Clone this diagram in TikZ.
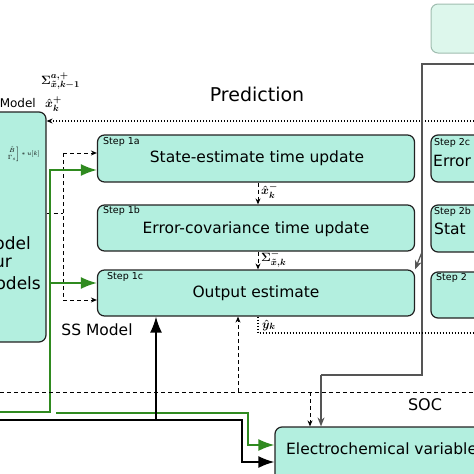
\documentclass[tikz,border=0pt]{standalone}
\usepackage{amsmath}
\usepackage{fontspec}
\setmainfont{DejaVu Sans}
\usetikzlibrary{arrows.meta}
\definecolor{boxfill}{HTML}{B3EFDF}
\definecolor{boxline}{HTML}{222222}
\definecolor{grn}{HTML}{2F8A1F}
\definecolor{lightfill}{HTML}{DDF7EC}
\definecolor{lightline}{HTML}{A0BDB0}
\definecolor{grayline}{HTML}{555555}
\begin{document}
\begin{tikzpicture}[x=1pt,y=-1pt,
  stepbox/.style={draw=boxline, fill=boxfill, line width=1.2pt, rounded corners=7pt, inner sep=0pt},
  steplabel/.style={font=\fontsize{9.5}{10}\selectfont, anchor=west, inner sep=0pt},
  maintext/.style={font=\fontsize{15.5}{18}\selectfont, inner sep=0pt},
  mathlabel/.style={font=\boldmath\fontsize{13}{14}\selectfont, inner sep=0pt},
  dasharrow/.style={dash pattern=on 4pt off 3pt, line width=0.9pt, -{Stealth[length=6pt,width=5pt]}},
  dashline/.style={dash pattern=on 4pt off 3pt, line width=0.9pt},
  dotline/.style={dash pattern=on 1.2pt off 1.8pt, line width=1.1pt},
  greenarrow/.style={draw=grn, line width=1.8pt, -{Latex[length=16pt,width=12pt]}},
  blackarrow/.style={draw=black, line width=1.8pt, -{Latex[length=16pt,width=12pt]}},
  grayarrow/.style={draw=grayline, line width=1.2pt, -{Stealth[length=9pt,width=7pt]}},
]
\useasboundingbox (0,0) rectangle (474,474);
\clip (0,0) rectangle (474,474);

% boxes
\node[stepbox, minimum width=56pt, minimum height=230pt] (lb) at (18,227) {};
\node[stepbox, minimum width=317pt, minimum height=47pt] (s1a) at (256,158.5) {};
\node[stepbox, minimum width=317pt, minimum height=46pt] (s1b) at (256,228) {};
\node[stepbox, minimum width=317pt, minimum height=46pt] (s1c) at (256,293) {};
\node[stepbox, minimum width=90pt, minimum height=47pt] (s2c) at (476,158.5) {};
\node[stepbox, minimum width=90pt, minimum height=47pt] (s2b) at (476,228.5) {};
\node[stepbox, minimum width=90pt, minimum height=46pt] (s2a) at (476,295) {};
\node[draw=lightline, fill=lightfill, line width=1pt, rounded corners=7pt, minimum width=98pt, minimum height=49pt] (tb) at (480,28.5) {};
\node[stepbox, minimum width=250pt, minimum height=62pt] (ec) at (400,458) {};

% texts in boxes
\node[maintext] (t1a) at (257,158) {State-estimate time update};
\node[maintext] (t1b) at (256,229) {Error-covariance time update};
\node[maintext] (t1c) at (256,293) {Output estimate};
\node[maintext, anchor=west] (t2c) at (433,161) {Error};
\node[maintext, anchor=west] (t2b) at (434,229) {Stat};
\node[maintext, anchor=west] (tec) at (286,449) {Electrochemical variable};
\node[steplabel] (l1a) at (103,142) {Step 1a};
\node[steplabel] (l1b) at (103,211) {Step 1b};
\node[steplabel] (l1c) at (107,277) {Step 1c};
\node[steplabel] (l2c) at (434,143) {Step 2c};
\node[steplabel] (l2b) at (434,212) {Step 2b};
\node[steplabel] (l2a) at (436,278) {Step 2};

% left box texts
\node[font=\fontsize{17}{20}\selectfont, anchor=east, inner sep=0pt] (lt1) at (31,243) {odel};
\node[font=\fontsize{17}{20}\selectfont, anchor=east, inner sep=0pt] (lt2) at (12,263) {ur};
\node[font=\fontsize{17}{20}\selectfont, anchor=east, inner sep=0pt] (lt3) at (41,283) {odels};
\node[font=\fontsize{6}{7}\selectfont, anchor=east, inner sep=0pt] (mat) at (40,154) {$\left.\begin{matrix}\hat{B}\\ \Gamma_s\end{matrix}\right]\ast u[k]$};

% free labels
\node[font=\fontsize{12}{14}\selectfont, anchor=east, inner sep=0pt] (mdl) at (36,103) {Model};
\node[font=\fontsize{19}{22}\selectfont, inner sep=0pt] (pred) at (257,94) {Prediction};
\node[font=\fontsize{15.5}{18}\selectfont, inner sep=0pt] (ssm) at (97,330) {SS Model};
\node[font=\fontsize{16}{18}\selectfont, inner sep=0pt] (soc) at (425,405) {SOC};
\node[mathlabel, anchor=west] (sig) at (41,81) {$\Sigma^{a,+}_{\tilde{x},k-1}$};
\node[mathlabel, anchor=west] (xp) at (45,104) {$\hat{x}^{+}_{k}$};
\node[mathlabel, anchor=west] (xm) at (261,191) {$\hat{x}^{-}_{k}$};
\node[mathlabel, anchor=west] (sm) at (261,259) {$\Sigma^{-}_{\tilde{x},k}$};
\node[mathlabel, anchor=west] (yk) at (262,325) {$\hat{y}_{k}$};

% coordinates
\coordinate (dtR) at (474,121);
\coordinate (dj) at (63,213);
\coordinate (dtop) at (63,153);
\coordinate (dbot) at (63,300);
\coordinate (g0) at (0,412);
\coordinate (g1) at (50,412);
\coordinate (g2) at (50,170);
\coordinate (g3) at (50,283);
\coordinate (h0) at (56,413);
\coordinate (h1) at (248,413);
\coordinate (h2) at (248,445);
\coordinate (b0) at (0,420);
\coordinate (b1) at (242,420);
\coordinate (b2) at (242,462);
\coordinate (bv) at (156,420);
\coordinate (dl0) at (0,392);
\coordinate (dl1) at (474,392);
\coordinate (du) at (238,392);
\coordinate (dd) at (310,392);
\coordinate (gr0) at (474,64);
\coordinate (gr1) at (422,64);
\coordinate (gr2) at (422,375);
\coordinate (gr3) at (321,375);
\coordinate (grd) at (422,252);
\coordinate (yv) at (258,333);
\coordinate (yR) at (474,333);

% top dotted feedback
\draw[dotline, -{Stealth[length=6pt,width=5pt]}] (dtR) -- (lb.east |- dtR);

% dashed left connectors
\draw[dashline] (lb.east |- dj) -- (dj);
\draw[dashline] (dtop) -- (dbot);
\draw[dasharrow] (dtop) -- (dtop -| s1a.west);
\draw[dasharrow] (dbot) -- (dbot -| s1c.west);

% green lines
\draw[greenarrow] (g0) -- (g1) -- (g2) -- (g2 -| s1a.west);
\draw[greenarrow] (g3) -- (g3 -| s1c.west);
\draw[greenarrow] (h0) -- (h1) -- (h2) -- (h2 -| ec.west);

% black lines
\draw[blackarrow] (b0) -- (b1) -- (b2) -- (b2 -| ec.west);
\draw[blackarrow] (bv) -- (bv |- s1c.south);

% dashed bottom
\draw[dashline] (dl0) -- (dl1);
\draw[dasharrow] (du) -- (du |- s1c.south);
\draw[dasharrow] (dd) -- (dd |- ec.north);

% gray line
\draw[grayline, line width=1.2pt] (gr0) -- (gr1) -- (gr2) -- (gr3);
\draw[grayarrow] (gr3) -- (gr3 |- ec.north);
\draw[grayarrow] (grd) -- (s1c.north east);

% between steps
\draw[dasharrow] (s1a.south -| yv) -- (s1b.north -| yv);
\draw[dasharrow] (s1b.south -| yv) -- (s1c.north -| yv);
\draw[dotline] (s1c.south -| yv) -- (yv) -- (yR);

\end{tikzpicture}
\end{document}
